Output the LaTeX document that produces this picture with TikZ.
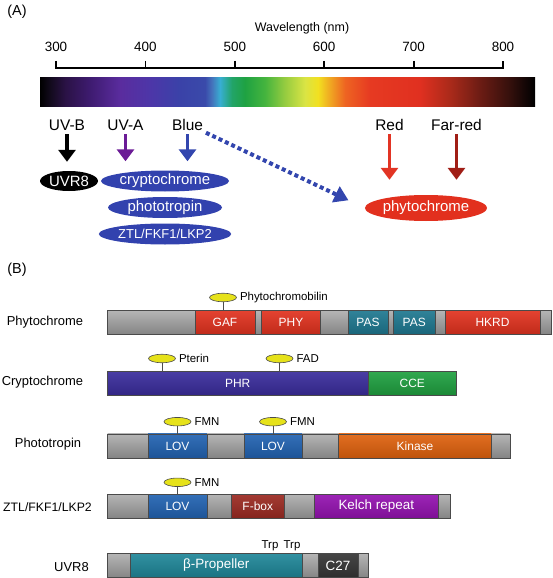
\documentclass[tikz,border=0pt]{standalone}
\usepackage{fontspec}
\setmainfont{Liberation Sans}
\usetikzlibrary{shapes.geometric, arrows.meta, positioning}

\definecolor{segGrey}{HTML}{9C9C9C}
\definecolor{segLine}{HTML}{4A4A4A}
\definecolor{domRed}{HTML}{E2321F}
\definecolor{domTeal}{HTML}{1E7890}
\definecolor{domPHR}{HTML}{3A2C9C}
\definecolor{domGreen}{HTML}{1FA040}
\definecolor{domLOV}{HTML}{2263B2}
\definecolor{domOrange}{HTML}{E0620E}
\definecolor{domFbox}{HTML}{9C2A22}
\definecolor{domKelch}{HTML}{9412B0}
\definecolor{domProp}{HTML}{1F8799}
\definecolor{domCtail}{HTML}{353535}
\definecolor{ligYellow}{HTML}{E6E21A}
\definecolor{blobBlue}{HTML}{3242AE}
\definecolor{blobRed}{HTML}{E2301E}
\definecolor{uvaPurple}{HTML}{6B1C96}
\definecolor{blueArr}{HTML}{3346AE}
\definecolor{redArr}{HTML}{E23424}
\definecolor{farredArr}{HTML}{A01E16}
% spectrum stops
\definecolor{spA}{HTML}{120A1C}
\definecolor{spB}{HTML}{2A1245}
\definecolor{spC}{HTML}{3E1B70}
\definecolor{spD}{HTML}{5A2C9E}
\definecolor{spE}{HTML}{4D36A8}
\definecolor{spF}{HTML}{3A42A8}
\definecolor{spG}{HTML}{3A4AAA}
\definecolor{spH}{HTML}{4474BC}
\definecolor{spI}{HTML}{38AED2}
\definecolor{spJ}{HTML}{22A468}
\definecolor{spK}{HTML}{1FA242}
\definecolor{spL}{HTML}{45B43E}
\definecolor{spM}{HTML}{96CC40}
\definecolor{spN}{HTML}{DAE444}
\definecolor{spO}{HTML}{F2E020}
\definecolor{spP}{HTML}{F0B022}
\definecolor{spQ}{HTML}{EE6422}
\definecolor{spR}{HTML}{E63A22}
\definecolor{spS}{HTML}{E03020}
\definecolor{spT}{HTML}{AA2A1A}
\definecolor{spU}{HTML}{6C1C14}
\definecolor{spV}{HTML}{34100C}
\definecolor{spW}{HTML}{140606}

\pgfdeclarehorizontalshading{spectrum}{100bp}{color(0bp)=(black); color(25bp)=(black);
  color(26.01bp)=(spA); color(27.53bp)=(spB); color(30.05bp)=(spC); color(33.08bp)=(spD);
  color(36.11bp)=(spE); color(39.14bp)=(spF); color(41.67bp)=(spG); color(42.37bp)=(spH);
  color(43.18bp)=(spI); color(44.39bp)=(spJ); color(45.71bp)=(spK); color(47.73bp)=(spL);
  color(49.75bp)=(spM); color(51.77bp)=(spN); color(53.08bp)=(spO); color(54.09bp)=(spP);
  color(55.81bp)=(spQ); color(58.33bp)=(spR); color(63.38bp)=(spS); color(66.41bp)=(spT);
  color(69.44bp)=(spU); color(72.47bp)=(spV); color(73.99bp)=(spW);
  color(75bp)=(black); color(100bp)=(black)}

\tikzset{
  panellbl/.style={font=\fontsize{14.5}{16}\selectfont, inner sep=1bp},
  ticklbl/.style={font=\fontsize{13.5}{15}\selectfont, inner sep=1bp},
  axislbl/.style={font=\fontsize{12.5}{14}\selectfont, inner sep=1bp},
  lightlbl/.style={font=\fontsize{15.5}{17}\selectfont, inner sep=1bp},
  ruler/.style={line width=1.8bp, black},
  blob/.style={ellipse, inner sep=0pt, minimum width=114bp, minimum height=21bp, fill=blobBlue, text=white, font=\fontsize{15}{17}\selectfont},
  lightarr/.style={line width=3.5bp, -{Triangle[width=17bp,length=12bp]}},
  dotarr/.style={draw=blueArr, line width=4bp, dash pattern=on 4bp off 3bp, -{Triangle[width=17bp,length=14bp]}},
  rowlbl/.style={font=\fontsize{13}{15}\selectfont, inner sep=1bp},
  seg/.style={rectangle, draw=segLine, line width=0.8bp, minimum height=24bp, inner sep=0pt, outer sep=0pt, text=white, font=\fontsize{12}{14}\selectfont},
  linker/.style={seg, top color=segGrey!75!white, bottom color=segGrey!85!black},
  dom/.style={seg, top color=#1!92!white, bottom color=#1!85!black},
  bigtxt/.style={font=\fontsize{13.5}{15}\selectfont},
  ligand/.style={ellipse, draw=black!70, line width=0.6bp, fill=ligYellow, minimum width=27bp, minimum height=8.5bp, inner sep=0pt},
  stem/.style={draw=black!70, line width=0.8bp},
  liglbl/.style={font=\fontsize{11.5}{13}\selectfont, inner sep=1bp},
}

\begin{document}
\begin{tikzpicture}[x=1bp, y=-1bp]
  \useasboundingbox (0,0) rectangle (553,578);

  % (A) spectrum
  \node[panellbl] (pa) at (17,12) {(A)};
  \node[axislbl] (wave) at (302,28) {Wavelength (nm)};
  \node[ticklbl] (t300) at (56,47) {300};
  \node[ticklbl] (t400) at (145.4,47) {400};
  \node[ticklbl] (t500) at (234.8,47) {500};
  \node[ticklbl] (t600) at (324.2,47) {600};
  \node[ticklbl] (t700) at (413.6,47) {700};
  \node[ticklbl] (t800) at (503,47) {800};
  \draw[ruler] (56,61) -- (56,68) -- (503,68) -- (503,61);
  \draw[ruler] (145.4,61) -- (145.4,68);
  \draw[ruler] (234.8,61) -- (234.8,68);
  \draw[ruler] (324.2,61) -- (324.2,68);
  \draw[ruler] (413.6,61) -- (413.6,68);
  \shade[shading=spectrum] (40,78) rectangle (535,107);

  % light qualities
  \node[lightlbl] (uvb) at (67,125) {UV-B};
  \node[lightlbl] (uva) at (125.5,125) {UV-A};
  \node[lightlbl] (blue) at (187.5,125) {Blue};
  \node[lightlbl] (red) at (389.5,125) {Red};
  \node[lightlbl] (farred) at (456.5,125) {Far-red};

  % photoreceptors
  \node[blob, fill=black, minimum width=58bp, minimum height=20bp] (uvr8) at (69,181) {UVR8};
  \node[blob] (cry) at (165,181) {cryptochrome};
  \node[blob] (phot) at (165,207.5) {phototropin};
  \node[blob, font=\fontsize{13}{15}\selectfont] (ztl) at (165,234) {ZTL/FKF1/LKP2};
  \node[blob, fill=blobRed, minimum width=104bp, minimum height=26bp] (phy) at (426,208) {phytochrome};

  \draw[lightarr, black, shorten <=2.5bp, shorten >=9bp] (uvb.south) -- (uvb.south |- uvr8.north);
  \draw[lightarr, uvaPurple, shorten <=2.5bp, shorten >=9bp] (uva.south) -- (uva.south |- cry.north);
  \draw[lightarr, blueArr, shorten <=2.5bp, shorten >=9bp] (blue.south) -- (blue.south |- cry.north);
  \draw[lightarr, redArr, shorten <=2.5bp, shorten >=15bp] (red.south) -- (red.south |- phy.north);
  \draw[lightarr, farredArr, shorten <=2.5bp, shorten >=15bp] (farred.south) -- (farred.south |- phy.north);
  \draw[dotarr, shorten <=2bp, shorten >=18bp] (blue.south east) -- (phy.west);

  % (B) domain structures
  \node[panellbl] (pb) at (17,270) {(B)};

  % Phytochrome
  \node[rowlbl] (rphy) at (45,322.4) {Phytochrome};
  \node[linker, minimum width=87.5bp, anchor=west] (py1) at (107.5,322.4) {};
  \node[dom=domRed, minimum width=60bp, right=0pt of py1] (py2) {GAF};
  \node[linker, minimum width=6.5bp, right=0pt of py2] (py3) {};
  \node[dom=domRed, minimum width=59bp, right=0pt of py3] (py4) {PHY};
  \node[linker, minimum width=27.5bp, right=0pt of py4] (py5) {};
  \node[dom=domTeal, minimum width=40bp, right=0pt of py5] (py6) {PAS};
  \node[linker, minimum width=5bp, right=0pt of py6] (py7) {};
  \node[dom=domTeal, minimum width=42.5bp, right=0pt of py7] (py8) {PAS};
  \node[linker, minimum width=9.5bp, right=0pt of py8] (py9) {};
  \node[dom=domRed, minimum width=95bp, right=0pt of py9] (py10) {HKRD};
  \node[linker, minimum width=11.5bp, right=0pt of py10] (py11) {};
  \node[ligand] (lgpcb) at (223,297.5) {};
  \node[liglbl, right=2bp of lgpcb] (lpcb) {Phytochromobilin};
  \draw[stem] (lgpcb.south) -- (lgpcb.south |- py2.north);

  % Cryptochrome
  \node[rowlbl] (rcry) at (42.5,382) {Cryptochrome};
  \node[dom=domPHR, minimum width=260.5bp, anchor=west] (cr1) at (107.5,383.7) {PHR};
  \node[dom=domGreen, minimum width=88.5bp, right=0pt of cr1] (cr2) {CCE};
  \node[ligand] (lgpt) at (162,358.5) {};
  \node[liglbl, right=2bp of lgpt] (lpt) {Pterin};
  \draw[stem] (lgpt.south) -- (lgpt.south |- cr1.north);
  \node[ligand] (lgfad) at (279.5,358.5) {};
  \node[liglbl, right=2bp of lgfad] (lfad) {FAD};
  \draw[stem] (lgfad.south) -- (lgfad.south |- cr1.north);

  % Phototropin
  \node[rowlbl] (rphot) at (48,444) {Phototropin};
  \node[linker, minimum width=40.5bp, anchor=west] (pt1) at (107.5,445.9) {};
  \node[dom=domLOV, minimum width=59bp, right=0pt of pt1] (pt2) {LOV};
  \node[linker, minimum width=37bp, right=0pt of pt2] (pt3) {};
  \node[dom=domLOV, minimum width=58bp, right=0pt of pt3] (pt4) {LOV};
  \node[linker, minimum width=36.5bp, right=0pt of pt4] (pt5) {};
  \node[dom=domOrange, minimum width=153bp, right=0pt of pt5] (pt6) {Kinase};
  \node[linker, minimum width=18.5bp, right=0pt of pt6] (pt7) {};
  \node[ligand] (lgfmn1) at (177.5,421.7) {};
  \node[liglbl, right=2bp of lgfmn1] (lfmn1) {FMN};
  \draw[stem] (lgfmn1.south) -- (lgfmn1.south |- pt2.north);
  \node[ligand] (lgfmn2) at (273,421.7) {};
  \node[liglbl, right=2bp of lgfmn2] (lfmn2) {FMN};
  \draw[stem] (lgfmn2.south) -- (lgfmn2.south |- pt4.north);

  % ZTL/FKF1/LKP2
  \node[rowlbl, font=\fontsize{12.3}{14}\selectfont, inner sep=0pt] (rztl) at (47.5,507) {ZTL/FKF1/LKP2};
  \node[linker, minimum width=40.5bp, anchor=west] (zt1) at (107.5,506.3) {};
  \node[dom=domLOV, minimum width=59bp, right=0pt of zt1] (zt2) {LOV};
  \node[linker, minimum width=24.5bp, right=0pt of zt2] (zt3) {};
  \node[dom=domFbox, minimum width=52.5bp, right=0pt of zt3] (zt4) {F-box};
  \node[linker, minimum width=30bp, right=0pt of zt4] (zt5) {};
  \node[dom=domKelch, bigtxt, minimum width=124.5bp, right=0pt of zt5] (zt6) {Kelch repeat};
  \node[linker, minimum width=12bp, right=0pt of zt6] (zt7) {};
  \node[ligand] (lgfmn3) at (177.5,482.3) {};
  \node[liglbl, right=2bp of lgfmn3] (lfmn3) {FMN};
  \draw[stem] (lgfmn3.south) -- (lgfmn3.south |- zt2.north);

  % UVR8
  \node[rowlbl] (ruvr) at (71.5,567) {UVR8};
  \node[linker, minimum width=22.5bp, anchor=west] (uv1) at (107.5,565.5) {};
  \node[dom=domProp, bigtxt, minimum width=172.5bp, right=0pt of uv1] (uv2) {β-Propeller};
  \node[linker, minimum width=15.5bp, right=0pt of uv2] (uv3) {};
  \node[dom=domCtail, bigtxt, minimum width=40bp, right=0pt of uv3] (uv4) {C27};
  \node[linker, minimum width=10bp, right=0pt of uv4] (uv5) {};
  \node[liglbl] (trp1) at (270,546) {Trp};
  \node[liglbl] (trp2) at (292,546) {Trp};
\end{tikzpicture}
\end{document}
